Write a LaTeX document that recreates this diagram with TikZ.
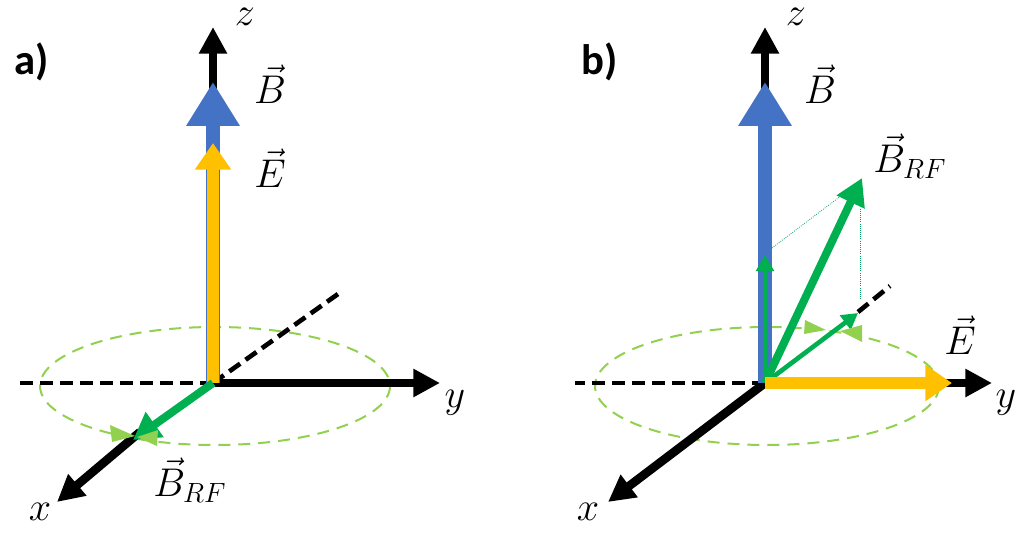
\documentclass[tikz,border=0pt]{standalone}
\usepackage{fontspec}
\newfontfamily\lblfont{Carlito}
\usetikzlibrary{arrows.meta}
\definecolor{cblue}{HTML}{4472C4}
\definecolor{cyel}{HTML}{FFC000}
\definecolor{cgreen}{HTML}{00B050}
\definecolor{lgreen}{HTML}{92D050}
\begin{document}
\begin{tikzpicture}[x=0.75pt,y=-0.75pt,
  axis/.style={line width=6.5pt,-{Triangle[length=20pt,width=20pt]}},
  back/.style={line width=3.5pt,dash pattern=on 10pt off 5pt},
  bvec/.style={cblue,line width=11pt,-{Triangle[length=33pt,width=38pt]}},
  evec/.style={cyel,line width=9pt,-{Triangle[length=20pt,width=26pt]}},
  gvec/.style={cgreen,line width=6pt,-{Triangle[length=20pt,width=22pt]}},
  gsmall/.style={cgreen,line width=3.5pt,-{Triangle[length=12pt,width=13pt]}},
  orbit/.style={lgreen,line width=1.5pt,dash pattern=on 9pt off 6pt},
  tri/.style={fill=lgreen,draw=none},
  thin/.style={cgreen!70!teal,line width=0.6pt,densely dotted},
  lab/.style={inner sep=0pt,scale=1.45,font=\fontsize{20.74}{22}\selectfont},
  plab/.style={font=\lblfont\bfseries\fontsize{32}{32}\selectfont}]
\useasboundingbox (0,0) rectangle (1025,535);
% ---------- panel a
\coordinate (oa) at (213,383);
\node[plab] (pa) at (32,62) {a)};
\draw[orbit] (215,386) ellipse [x radius=175,y radius=59];
\draw[back] (oa) -- (20,383);
\draw[back] (oa) -- (338,294);
\coordinate (za) at (213,27);
\coordinate (ya) at (440,383);
\coordinate (xa) at (57,502);
\draw[axis] (oa) -- (za);
\draw[axis] (oa) -- (ya);
\draw[axis] (140,432) -- (xa);
\draw[bvec] (oa) -- (213,82);
\draw[evec] (oa) -- (213,143);
\draw[gvec] (oa) -- (133,440);
\fill[tri] (110,425) -- (135,436) -- (112,442) -- cycle;
\fill[tri] (158,430) -- (137,437) -- (157,446) -- cycle;
\node[lab] (zla) at (245,17) {$z$};
\node[lab] (yla) at (455,403) {$y$};
\node[lab] (xla) at (40,512) {$x$};
\node[lab] (Bla) at (270,84) {$\vec{B}$};
\node[lab] (Ela) at (270,168) {$\vec{E}$};
\node[lab] (Rla) at (190,480) {$\vec{B}_{RF}$};
% ---------- panel b
\coordinate (ob) at (765,383);
\node[plab] (pb) at (600,62) {b)};
\draw[orbit] (767,386) ellipse [x radius=172,y radius=59];
\draw[back] (ob) -- (575,383);
\draw[back] (858,312) -- (890,286);
\coordinate (zb) at (765,27);
\coordinate (yb) at (992,383);
\coordinate (xb) at (608,502);
\draw[axis] (ob) -- (zb);
\draw[axis] (ob) -- (yb);
\draw[axis] (ob) -- (xb);
\draw[bvec] (ob) -- (765,82);
\draw[thin] (772,248) -- (858,183);
\draw[thin] (860,183) -- (860,300);
\coordinate (rf) at (862,178);
\draw[gvec] (ob) -- (rf);
\draw[gsmall] (ob) -- (765,255);
\draw[gsmall] (ob) -- (858,313);
\fill[tri] (805,320) -- (826,330) -- (804,334) -- cycle;
\fill[tri] (862,325) -- (840,331) -- (862,342) -- cycle;
\draw[evec] (ob) -- (952,383);
\node[lab] (zlb) at (796,17) {$z$};
\node[lab] (ylb) at (1006,403) {$y$};
\node[lab] (xlb) at (588,512) {$x$};
\node[lab] (Blb) at (820,84) {$\vec{B}$};
\node[lab] (Rlb) at (910,156) {$\vec{B}_{RF}$};
\node[lab] (Elb) at (960,335) {$\vec{E}$};
\end{tikzpicture}
\end{document}
